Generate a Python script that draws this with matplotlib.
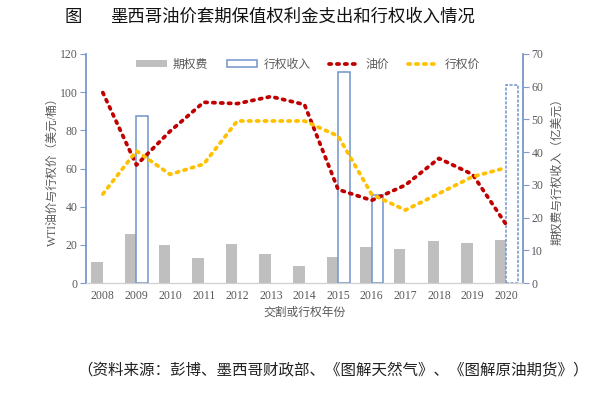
import matplotlib
matplotlib.use("Agg")
import matplotlib.pyplot as plt
import numpy as np
from matplotlib.patches import Patch
from matplotlib.lines import Line2D

years = ["2008", "2009", "2010", "2011", "2012", "2013", "2014",
         "2015", "2016", "2017", "2018", "2019", "2020"]
premium = [6.4, 14.9, 11.6, 7.7, 11.8, 8.8, 5.3, 7.9, 11.0, 10.3, 12.7, 12.3, 13.2]
payout = [0, 51.0, 0, 0, 0, 0, 0, 64.5, 26.8, 0, 0, 0, 60.4]
oil = [99.8, 61.8, 79.5, 94.7, 94.0, 97.7, 93.5, 49.0, 43.3, 51.3, 65.3, 56.9, 30.6]
strike = [46.6, 69.2, 56.9, 62.3, 84.9, 84.9, 84.9, 77.0, 46.4, 38.2, 46.9, 55.7, 60.4]

CJK = "Noto Sans CJK SC"
SERIF = ["Liberation Serif", CJK]
TXT = "#595959"

plt.rcParams['font.family'] = SERIF

fig = plt.figure(figsize=(6.0, 3.95), dpi=100)
ax = fig.add_axes([86/600, 1-283/395, (523-86)/600, (283-54)/395])
ax2 = ax.twinx()
ax.set_zorder(ax2.get_zorder() + 1)
ax.patch.set_visible(False)

x = np.arange(len(years))
w = 0.34
ax2.bar(x - w/2, premium, width=w, color="#BFBFBF", edgecolor="none")
pay_bars = ax2.bar(x + w/2, payout, width=w, facecolor="white",
                   edgecolor="#7094CC", linewidth=1.1)
for i, p in enumerate(pay_bars):
    if payout[i] == 0:
        p.set_visible(False)
pay_bars[-1].set_linestyle((0, (2, 1)))

ls = (0, (0.6, 1.5))
ax.plot(x, oil, color="#C00000", linewidth=2.7, linestyle=ls,
        dash_capstyle="round")
ax.plot(x, strike, color="#FFC000", linewidth=2.7, linestyle=ls,
        dash_capstyle="round")

ax.set_xlim(-0.5, 12.5)
ax.set_ylim(0, 120)
ax2.set_ylim(0, 70)
ax.set_yticks(range(0, 121, 20))
ax2.set_yticks(range(0, 71, 10))
ax.set_xticks(x)
ax.set_xticklabels(years)

spc = "#7F9BCB"
for a in (ax, ax2):
    a.spines["top"].set_visible(False)
    a.spines["bottom"].set_color("#D0D0D0")
    a.spines["left"].set_color(spc)
    a.spines["right"].set_color(spc)
    a.spines["left"].set_linewidth(1.1)
    a.spines["right"].set_linewidth(1.1)
ax.tick_params(axis="y", direction="out", length=4, color=spc, labelcolor=TXT,
               labelsize=8.5, pad=2)
ax2.tick_params(axis="y", direction="out", length=4, color=spc, labelcolor=TXT,
                labelsize=8.5, pad=2)
ax.tick_params(axis="x", length=0, labelcolor=TXT, labelsize=8.5, pad=5)
for lab in ax.get_xticklabels() + ax.get_yticklabels() + ax2.get_yticklabels():
    lab.set_family(["Liberation Serif"])

ax.set_xlabel("交割或行权年份", family=[CJK], color=TXT, fontsize=8.5, labelpad=3)
ax.set_ylabel("WTI油价与行权价（美元/桶）", family=SERIF, color=TXT, fontsize=8.5,
              labelpad=1)
ax2.set_ylabel("期权费与行权收入（亿美元）", family=[CJK], color=TXT, fontsize=8.5,
               labelpad=5)

handles = [
    Patch(facecolor="#BFBFBF", edgecolor="none"),
    Patch(facecolor="white", edgecolor="#7094CC", linewidth=1.1),
    Line2D([], [], color="#C00000", linewidth=2.7, linestyle=ls,
           dash_capstyle="round"),
    Line2D([], [], color="#FFC000", linewidth=2.7, linestyle=ls,
           dash_capstyle="round"),
]
labels = ["期权费", "行权收入", "油价", "行权价"]
leg = ax.legend(handles, labels, loc="center", bbox_to_anchor=(0.508, 0.955),
                ncol=4, frameon=False, prop={"family": CJK, "size": 8.5},
                handlelength=2.6, handleheight=0.6, columnspacing=1.6,
                handletextpad=0.5, borderaxespad=0)
for t in leg.get_texts():
    t.set_color(TXT)

fig.text(65/600, 1-17/395, "图", family=[CJK], fontsize=12.5, ha="left",
         va="center", color="#111111", weight="medium")
fig.text(110/600, 1-17/395, "墨西哥油价套期保值权利金支出和行权收入情况",
         family=[CJK], fontsize=12.5, ha="left", va="center", color="#111111",
         weight="medium")
fig.text(77/600, 1-370/395,
         "（资料来源：彭博、墨西哥财政部、《图解天然气》、《图解原油期货》）",
         family=[CJK], fontsize=11.2, ha="left", va="center", color="#222222")

fig.savefig("out.png", dpi=100)
